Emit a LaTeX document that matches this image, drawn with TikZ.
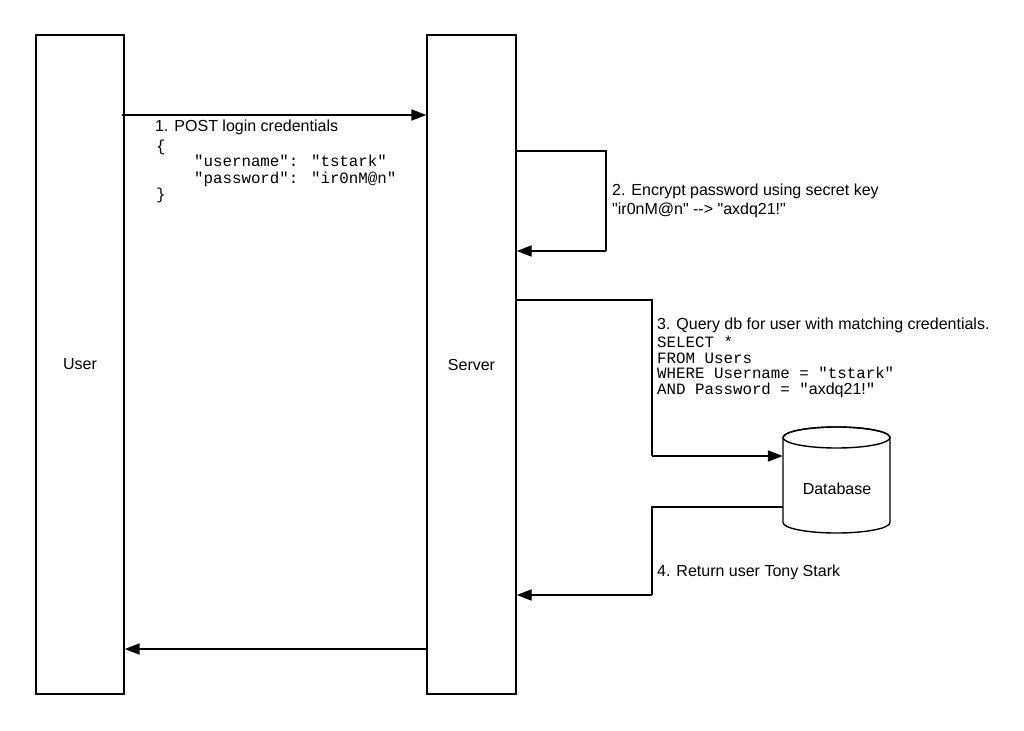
\documentclass[tikz,border=0pt]{standalone}
\usepackage{fontspec}
\setmainfont{Liberation Sans}
\newfontfamily\monof{Liberation Mono}
\usetikzlibrary{arrows.meta}
\tikzset{
  lifeline/.style={draw, line width=1.4pt, minimum width=88pt, minimum height=659pt, inner sep=0pt, font=\fontsize{16pt}{19pt}\selectfont},
  arr/.style={line width=2pt, -{Triangle[length=15pt,width=11pt]}},
  flow/.style={line width=2pt},
  sanslbl/.style={anchor=base west, inner sep=0pt, font=\fontsize{16pt}{19pt}\selectfont, align=left},
  monolbl/.style={anchor=base west, inner sep=0pt, font=\monof\fontsize{15.8pt}{15.8pt}\selectfont, align=left},
}
\begin{document}
\begin{tikzpicture}[x=1pt,y=-1pt]
\useasboundingbox (0,0) rectangle (1024,730);
\fill[white] (0,0) rectangle (1024,730);

\node[lifeline] (user) at (80,364.5) {User};
\node[lifeline, minimum width=89pt] (server) at (471.5,364.5) {Server};

% database cylinder
\draw[line width=1.4pt, fill=white] (783,437.5) -- (783,522.5) arc[start angle=180, end angle=360, x radius=53.5pt, y radius=10.5pt] -- (890,437.5) arc[start angle=0, end angle=180, x radius=53.5pt, y radius=10.5pt] -- cycle;
\draw[line width=1.4pt] (836.5,437.5) ellipse [x radius=53.5pt, y radius=10.5pt];
\node[minimum width=107pt, minimum height=85pt, inner sep=0pt] (db) at (836.5,480) {};
\node[font=\fontsize{16pt}{19pt}\selectfont, inner sep=0pt] (dbtext) at (837,489) {Database};

% 1. POST
\coordinate (p1) at (122,115);
\draw[arr] (p1) -- (server.west |- p1);
\node[sanslbl] (l1) at (155,132) {1. POST login credentials};
\node[monolbl] (j1) at (156,152) {\{};
\node[monolbl] (j2) at (156,167) {\hphantom{0000}"username": "tstark"};
\node[monolbl] (j3) at (156,183) {\hphantom{0000}"password": "ir0nM@n"};
\node[monolbl] (j4) at (156,199) {\}};

% 2. Encrypt
\coordinate (e1) at (606,151);
\coordinate (e2) at (606,251);
\draw[flow] (server.east |- e1) -- (e1) -- (e2);
\draw[arr] (e2) -- (server.east |- e2);
\node[sanslbl] (l2) at (612,195) {2. Encrypt password using secret key};
\node[sanslbl] (l2b) at (612,214) {\textquotedbl ir0nM@n\textquotedbl{} -{}-> \textquotedbl axdq21!\textquotedbl};

% 3. Query
\coordinate (q1) at (652,300);
\coordinate (q2) at (652,456);
\draw[flow] (server.east |- q1) -- (q1) -- (q2);
\draw[arr] (q2) -- (db.west |- q2);
\node[sanslbl] (l3) at (657,329) {3. Query db for user with matching credentials.};
\node[monolbl] (s1) at (657,347) {SELECT *};
\node[monolbl] (s2) at (657,363) {FROM Users};
\node[monolbl] (s3) at (657,378.5) {WHERE Username = "tstark"};
\node[monolbl] (s4) at (657,394) {AND Password = "{\fontspec{Liberation Sans}\fontsize{16pt}{16pt}\selectfont axdq21!}"};

% 4. Return
\coordinate (r1) at (652,507);
\coordinate (r2) at (652,595);
\draw[flow] (db.west |- r1) -- (r1) -- (r2);
\draw[arr] (r2) -- (server.east |- r2);
\node[sanslbl] (l4) at (657,576) {4. Return user Tony Stark};

% final response
\coordinate (f1) at (427,649);
\draw[arr] (server.west |- f1) -- (user.east |- f1);
\end{tikzpicture}
\end{document}
